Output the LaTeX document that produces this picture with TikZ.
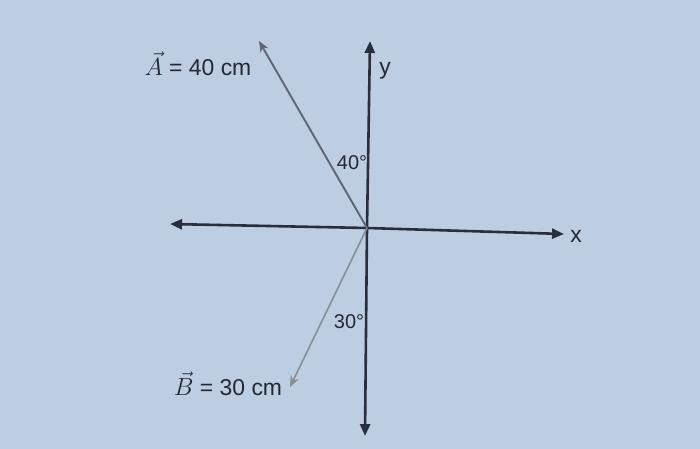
\documentclass[tikz,border=0pt]{standalone}
\usepackage{fontspec}
\setmainfont{Liberation Sans}
\usetikzlibrary{arrows.meta}
\definecolor{bg}{RGB}{189,206,226}
\definecolor{axis}{RGB}{40,46,60}
\definecolor{veca}{RGB}{95,102,115}
\definecolor{vecb}{RGB}{135,142,152}
\definecolor{txt}{RGB}{35,40,52}
\tikzset{
  axisline/.style={draw=axis, line width=2.6pt, -{Triangle[length=12pt,width=10pt]}},
  avec/.style={draw=veca, line width=1.9pt, -{Stealth[length=11pt,width=9pt]}},
  bvec/.style={draw=vecb, line width=1.6pt, -{Stealth[length=11pt,width=9pt]}},
  lbl/.style={text=txt, font=\fontsize{23}{27}\selectfont, inner sep=0pt}
}
\begin{document}
\begin{tikzpicture}[x=1bp,y=-1bp]
\fill[bg] (0,0) rectangle (700,449);
\useasboundingbox (0,0) rectangle (700,449);
\coordinate (O) at (367,228);
\coordinate (L) at (170,224);
\coordinate (R) at (564,234);
\coordinate (T) at (370,41);
\coordinate (D) at (365,436);
\coordinate (Atip) at (259,41);
\coordinate (Btip) at (290,387);
\draw[axisline] (O) -- (L);
\draw[axisline] (O) -- (R);
\draw[axisline] (O) -- (T);
\draw[axisline] (O) -- (D);
\draw[avec] (O) -- (Atip);
\draw[bvec] (O) -- (Btip);
\node[lbl] (la) at (198,64) {$\vec{A}$ = 40 cm};
\node[lbl] (lb) at (228,384) {$\vec{B}$ = 30 cm};
\node[lbl] (ly) at (385,71) {y};
\node[lbl] (lx) at (576,236) {x};
\node[lbl, font=\fontsize{20}{24}\selectfont] (a40) at (352,163) {40°};
\node[lbl, font=\fontsize{20}{24}\selectfont] (a30) at (349,322) {30°};
\end{tikzpicture}
\end{document}
